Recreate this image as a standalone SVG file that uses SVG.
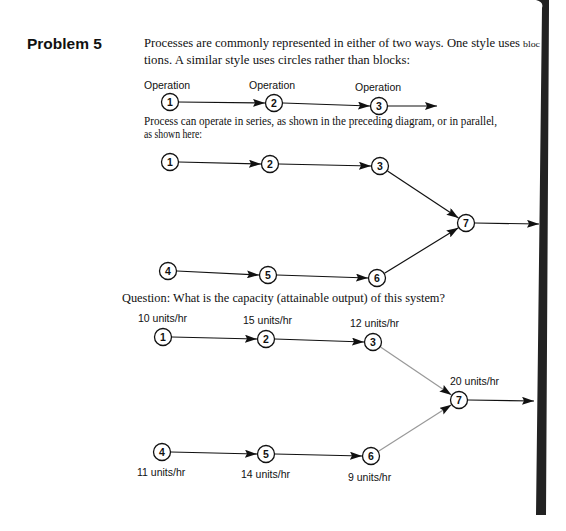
<svg xmlns="http://www.w3.org/2000/svg" width="566" height="531" viewBox="0 0 566 531">
<defs>
<marker id="ah" markerUnits="userSpaceOnUse" markerWidth="12" markerHeight="8" refX="12" refY="4" orient="auto">
<path d="M0,0 L12,4 L0,8 L2,4 z" fill="#111"/>
</marker>
</defs>
<style>
.serif{font-family:"Liberation Serif","Times New Roman",serif;fill:#111}
.sans{font-family:"Liberation Sans",Arial,sans-serif;fill:#111}
.lbl{font-family:"Liberation Sans",Arial,sans-serif;font-size:10.5px;fill:#111}
.num{font-family:"Liberation Sans",Arial,sans-serif;font-size:10.5px;font-weight:bold;fill:#111;text-anchor:middle}
.node circle{fill:#fff;stroke:#111;stroke-width:1.3}
.edge{stroke:#111;stroke-width:1.2;fill:none}
.gray{stroke:#999;stroke-width:1.2;fill:none}
</style>
<rect width="566" height="531" fill="#fff"/>

<text class="sans" x="27" y="49" font-size="15.5" font-weight="bold">Problem 5</text>
<text class="serif" x="144" y="47" font-size="12.5" textLength="376" lengthAdjust="spacingAndGlyphs">Processes are commonly represented in either of two ways. One style uses</text>
<text class="serif" x="523" y="47" font-size="9" textLength="17" lengthAdjust="spacingAndGlyphs">bloc</text>
<text class="serif" x="144" y="64" font-size="12.5" textLength="266" lengthAdjust="spacingAndGlyphs">tions. A similar style uses circles rather than blocks:</text>

<text class="lbl" x="144" y="89">Operation</text>
<text class="lbl" x="249" y="89">Operation</text>
<text class="lbl" x="355" y="91">Operation</text>

<text class="serif" x="144" y="125" font-size="12" textLength="353" lengthAdjust="spacingAndGlyphs">Process can operate in series, as shown in the preceding diagram, or in parallel,</text>
<text class="serif" x="144" y="138" font-size="12" textLength="58" lengthAdjust="spacingAndGlyphs">as shown here:</text>

<text class="serif" x="122" y="302" font-size="12.5" textLength="323" lengthAdjust="spacingAndGlyphs">Question: What is the capacity (attainable output) of this system?</text>

<text class="lbl" x="138" y="322">10 units/hr</text>
<text class="lbl" x="243" y="324">15 units/hr</text>
<text class="lbl" x="350" y="327">12 units/hr</text>
<text class="lbl" x="450" y="385">20 units/hr</text>
<text class="lbl" x="137" y="476">11 units/hr</text>
<text class="lbl" x="241" y="478">14 units/hr</text>
<text class="lbl" x="348" y="481">9 units/hr</text>

<g id="connectors">
<line class="edge" x1="178" y1="102" x2="265" y2="103" marker-end="url(#ah)"/>
<line class="edge" x1="283" y1="103" x2="370" y2="106" marker-end="url(#ah)"/>
<line class="edge" x1="388" y1="106" x2="437" y2="106" marker-end="url(#ah)"/>

<line class="edge" x1="179" y1="162" x2="261" y2="164" marker-end="url(#ah)"/>
<line class="edge" x1="279" y1="164" x2="371" y2="166" marker-end="url(#ah)"/>
<line class="edge" x1="387.5" y1="171" x2="458.5" y2="218" marker-end="url(#ah)"/>
<line class="edge" x1="177" y1="271" x2="259" y2="275" marker-end="url(#ah)"/>
<line class="edge" x1="277" y1="275" x2="368" y2="278" marker-end="url(#ah)"/>
<line class="edge" x1="384.5" y1="273.3" x2="458.5" y2="227.7" marker-end="url(#ah)"/>
<line class="edge" x1="475" y1="223" x2="539" y2="224" marker-end="url(#ah)"/>

<line class="edge" x1="172" y1="337" x2="257" y2="339" marker-end="url(#ah)"/>
<line class="edge" x1="275" y1="339" x2="364" y2="342" marker-end="url(#ah)"/>
<line class="gray" x1="380.5" y1="347" x2="451.5" y2="395" marker-end="url(#ah)"/>
<line class="edge" x1="171" y1="452" x2="257" y2="454" marker-end="url(#ah)"/>
<line class="edge" x1="275" y1="454" x2="362" y2="456" marker-end="url(#ah)"/>
<line class="gray" x1="378.5" y1="451.2" x2="451.5" y2="404.8" marker-end="url(#ah)"/>
<line class="edge" x1="468" y1="400" x2="534" y2="401" marker-end="url(#ah)"/>
</g>

<g id="n1a" class="node"><circle cx="170" cy="102" r="8.5"/><text class="num" x="170" y="105.8">1</text></g>
<g id="n2a" class="node"><circle cx="274" cy="103" r="8.5"/><text class="num" x="274" y="106.8">2</text></g>
<g id="n3a" class="node"><circle cx="379" cy="106" r="8.5"/><text class="num" x="379" y="109.8">3</text></g>

<g id="n1b" class="node"><circle cx="170" cy="162" r="8.5"/><text class="num" x="170" y="165.8">1</text></g>
<g id="n2b" class="node"><circle cx="270" cy="164" r="8.5"/><text class="num" x="270" y="167.8">2</text></g>
<g id="n3b" class="node"><circle cx="380" cy="166" r="8.5"/><text class="num" x="380" y="169.8">3</text></g>
<g id="n4b" class="node"><circle cx="168" cy="271" r="8.5"/><text class="num" x="168" y="274.8">4</text></g>
<g id="n5b" class="node"><circle cx="268" cy="275" r="8.5"/><text class="num" x="268" y="278.8">5</text></g>
<g id="n6b" class="node"><circle cx="377" cy="278" r="8.5"/><text class="num" x="377" y="281.8">6</text></g>
<g id="n7b" class="node"><circle cx="466" cy="223" r="8.5"/><text class="num" x="466" y="226.8">7</text></g>

<g id="n1c" class="node"><circle cx="163" cy="337" r="8.5"/><text class="num" x="163" y="340.8">1</text></g>
<g id="n2c" class="node"><circle cx="266" cy="339" r="8.5"/><text class="num" x="266" y="342.8">2</text></g>
<g id="n3c" class="node"><circle cx="373" cy="342" r="8.5"/><text class="num" x="373" y="345.8">3</text></g>
<g id="n4c" class="node"><circle cx="162" cy="452" r="8.5"/><text class="num" x="162" y="455.8">4</text></g>
<g id="n5c" class="node"><circle cx="266" cy="454" r="8.5"/><text class="num" x="266" y="457.8">5</text></g>
<g id="n6c" class="node"><circle cx="371" cy="456" r="8.5"/><text class="num" x="371" y="459.8">6</text></g>
<g id="n7c" class="node"><circle cx="459" cy="400" r="8.5"/><text class="num" x="459" y="403.8">7</text></g>

<path d="M536,0 Q544,2 542,8 L549,8 L549,0 Z M542,8 L549,8 L546,515 L536,515 Z" fill="#222"/>
</svg>
